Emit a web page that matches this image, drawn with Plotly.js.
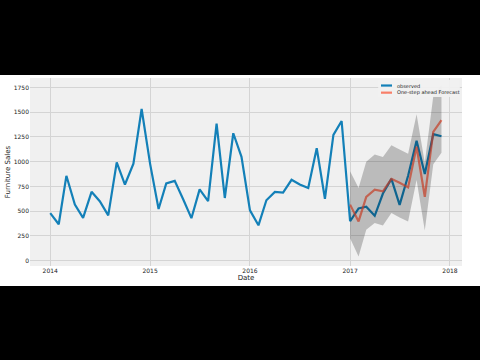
<!DOCTYPE html>
<html>
<head>
<meta charset="utf-8">
<script src="https://cdn.plot.ly/plotly-3.0.1.min.js"></script>
<style>
html,body{margin:0;padding:0;background:#000;width:480px;height:360px;overflow:hidden;}
#chart{position:absolute;left:0;top:75px;width:480px;height:211px;background:#fff;}
</style>
</head>
<body>
<div id="chart"></div>
<script>
const obsDates = ["2014-01-01","2014-02-01","2014-03-01","2014-04-01","2014-05-01","2014-06-01","2014-07-01","2014-08-01","2014-09-01","2014-10-01","2014-11-01","2014-12-01",
"2015-01-01","2015-02-01","2015-03-01","2015-04-01","2015-05-01","2015-06-01","2015-07-01","2015-08-01","2015-09-01","2015-10-01","2015-11-01","2015-12-01",
"2016-01-01","2016-02-01","2016-03-01","2016-04-01","2016-05-01","2016-06-01","2016-07-01","2016-08-01","2016-09-01","2016-10-01","2016-11-01","2016-12-01",
"2017-01-01","2017-02-01","2017-03-01","2017-04-01","2017-05-01","2017-06-01","2017-07-01","2017-08-01","2017-09-01","2017-10-01","2017-11-01","2017-12-01"];
const observed = [480,368,857,567,432,695,601,458,992,769,980,1532,
978,522,781,806,625,429,720,602,1383,633,1287,1049,
508,357,610,695,687,817,769,734,1136,625,1271,1411,
398,528,545,453,678,826,563,858,1210,875,1278,1256];
const fcDates = ["2017-01-01","2017-02-01","2017-03-01","2017-04-01","2017-05-01","2017-06-01","2017-07-01","2017-08-01","2017-09-01","2017-10-01","2017-11-01","2017-12-01"];
const forecast = [566,396,645,718,700,826,786,740,1150,645,1300,1420];
const ciLower = [227,41,312,380,355,481,437,396,815,305,975,1090];
const ciUpper = [904,735,999,1073,1046,1165,1124,1080,1480,990,1660,1775];
const yTicks = [0,250,500,750,1000,1250,1500,1750];
const seriesNames = ['observed', 'One-step ahead Forecast'];
const seriesColors = ['#1380b8', '#fc4f30'];

const traces = [
  {x: obsDates, y: observed, type: 'scatter', mode: 'lines', name: seriesNames[0],
   line: {color: seriesColors[0], width: 2.2}},
  {x: fcDates, y: forecast, type: 'scatter', mode: 'lines', name: seriesNames[1],
   line: {color: seriesColors[1], width: 2.2}, opacity: 0.7},
  {x: fcDates, y: ciLower, type: 'scatter', mode: 'lines', line: {width: 0, color: 'rgba(0,0,0,0)'},
   hoverinfo: 'skip'},
  {x: fcDates, y: ciUpper, type: 'scatter', mode: 'lines', line: {width: 0, color: 'rgba(0,0,0,0)'},
   fill: 'tonexty', fillcolor: 'rgba(0,0,0,0.22)', hoverinfo: 'skip'}
];

// compact legend (matplotlib style) built from the series names/colours
const legX0 = 0.8125, legX1 = 0.838, legTextX = 0.845;
const legY = [0.960, 0.922];
const shapes = [
  {type: 'rect', xref: 'paper', yref: 'paper', x0: 0.806, x1: 0.995, y0: 0.899, y1: 0.99,
   fillcolor: 'rgba(240,240,240,0.95)', line: {width: 0}, layer: 'above'}
];
const annotations = [];
seriesNames.forEach((n, i) => {
  shapes.push({type: 'line', xref: 'paper', yref: 'paper', x0: legX0, x1: legX1, y0: legY[i], y1: legY[i],
    line: {color: seriesColors[i], width: 2.2}, opacity: i === 1 ? 0.7 : 1, layer: 'above'});
  annotations.push({xref: 'paper', yref: 'paper', x: legTextX, y: legY[i], xanchor: 'left', yanchor: 'middle',
    text: n, showarrow: false, font: {size: 5, color: '#222'}});
});

const layout = {
  width: 480, height: 211,
  margin: {l: 30, r: 18, t: 3, b: 20},
  paper_bgcolor: '#ffffff',
  plot_bgcolor: '#f0f0f0',
  font: {family: 'DejaVu Sans, sans-serif', size: 6, color: '#222'},
  showlegend: false,
  shapes: shapes,
  annotations: annotations,
  xaxis: {
    type: 'date', range: ['2013-10-19', '2018-02-14'],
    tickmode: 'linear', tick0: '2014-01-01', dtick: 'M12', tickformat: '%Y',
    showgrid: true, gridcolor: '#d4d4d4', gridwidth: 1, zeroline: false,
    ticks: '', showline: false, tickfont: {size: 6},
    title: {text: 'Date', font: {size: 7}, standoff: 2}
  },
  yaxis: {
    range: [-54, 1845], tickmode: 'array', tickvals: yTicks, ticktext: yTicks.map(String),
    showgrid: true, gridcolor: '#d4d4d4', gridwidth: 1, zeroline: false,
    ticks: '', showline: false, tickfont: {size: 6},
    title: {text: 'Furniture Sales', font: {size: 7}, standoff: 2}
  }
};

Plotly.newPlot('chart', traces, layout, {staticPlot: true, displayModeBar: false});
</script>
</body>
</html>
